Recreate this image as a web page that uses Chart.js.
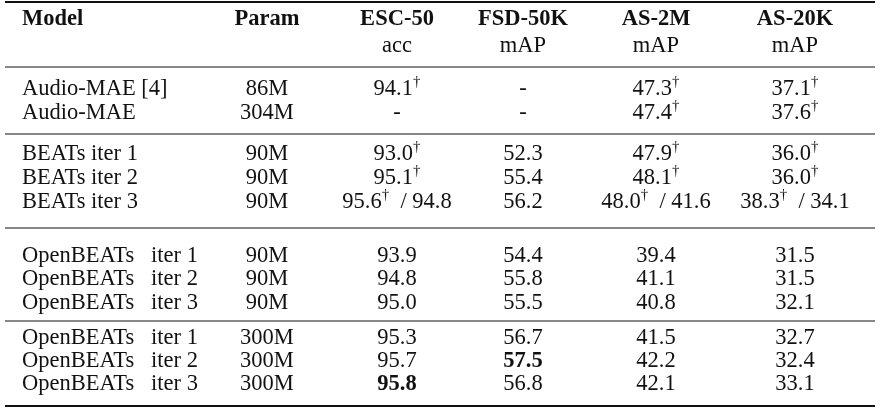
<!DOCTYPE html>
<html>
<head>
<meta charset="utf-8">
<script src="https://cdn.jsdelivr.net/npm/chart.js@4"></script>
<style>
  html, body { margin: 0; padding: 0; background: #fff; }
  #wrap { width: 881px; height: 412px; }
</style>
</head>
<body>
<div id="wrap"><canvas id="tbl"></canvas></div>
<script>
// table content
const headers = ["Model", "Param", "ESC-50", "FSD-50K", "AS-2M", "AS-20K"];
const subHeaders = ["", "", "acc", "mAP", "mAP", "mAP"];
const models = [
    "Audio-MAE [4]", "Audio-MAE",
    "BEATs iter 1", "BEATs iter 2", "BEATs iter 3",
    "OpenBEATs   iter 1", "OpenBEATs   iter 2", "OpenBEATs   iter 3",
    "OpenBEATs   iter 1", "OpenBEATs   iter 2", "OpenBEATs   iter 3",
];
const params = ["86M", "304M", "90M", "90M", "90M", "90M", "90M", "90M", "300M", "300M", "300M"];
const esc50 = ["94.1†", "-", "93.0†", "95.1†", "95.6†  / 94.8", "93.9", "94.8", "95.0", "95.3", "95.7", "**95.8"];
const fsd50k = ["-", "-", "52.3", "55.4", "56.2", "54.4", "55.8", "55.5", "56.7", "**57.5", "56.8"];
const as2m = ["47.3†", "47.4†", "47.9†", "48.1†", "48.0†  / 41.6", "39.4", "41.1", "40.8", "41.5", "42.2", "42.1"];
const as20k = ["37.1†", "37.6†", "36.0†", "36.0†", "38.3†  / 34.1", "31.5", "31.5", "32.1", "32.7", "32.4", "33.1"];
const columns = [models, params, esc50, fsd50k, as2m, as20k];

// layout in pixel-like units on the chart scales
const colX = [22, 267, 397, 523, 656, 795];
const rowY = [89, 113, 154, 178, 202, 256, 279, 303, 338, 361, 384];
const rules = [[2, 2], [67, 1], [134, 1], [228, 1], [321, 1], [406, 2]];
const FONT = "'Liberation Serif', 'DejaVu Serif', serif";

function drawCell(ctx, text, x, y, align) {
    let bold = false;
    if (text.startsWith("**")) { bold = true; text = text.slice(2); }
    const main = (bold ? "bold " : "") + "22.5px " + FONT;
    const sup = "15px " + FONT;
    const parts = [];
    text.split("†").forEach((s, i, arr) => {
        if (s) parts.push([s, main, 0]);
        if (i < arr.length - 1) parts.push(["†", sup, -7]);
    });
    let total = 0;
    parts.forEach(p => { ctx.font = p[1]; total += ctx.measureText(p[0]).width; });
    let cx = align === "left" ? x : x - total / 2;
    ctx.textAlign = "left";
    ctx.textBaseline = "middle";
    parts.forEach(p => {
        ctx.font = p[1];
        ctx.fillText(p[0], cx, y + p[2]);
        cx += ctx.measureText(p[0]).width;
    });
}

const tablePlugin = {
    id: "table",
    afterDraw(chart) {
        const ctx = chart.ctx;
        const xs = chart.scales.x, ys = chart.scales.y;
        ctx.save();
        ctx.fillStyle = "#111";
        ctx.strokeStyle = "#111";
        rules.forEach(([y, w]) => {
            ctx.lineWidth = w;
            ctx.beginPath();
            ctx.moveTo(xs.getPixelForValue(5), ys.getPixelForValue(y));
            ctx.lineTo(xs.getPixelForValue(875), ys.getPixelForValue(y));
            ctx.stroke();
        });
        headers.forEach((h, c) => {
            drawCell(ctx, "**" + h, xs.getPixelForValue(colX[c]), ys.getPixelForValue(19), c === 0 ? "left" : "center");
            if (subHeaders[c]) drawCell(ctx, subHeaders[c], xs.getPixelForValue(colX[c]), ys.getPixelForValue(46), "center");
        });
        columns.forEach((col, c) => {
            col.forEach((v, r) => {
                drawCell(ctx, v, xs.getPixelForValue(colX[c]), ys.getPixelForValue(rowY[r]), c === 0 ? "left" : "center");
            });
        });
        ctx.restore();
    },
};

new Chart(document.getElementById("tbl"), {
    type: "scatter",
    data: { datasets: [{ data: [], pointRadius: 0 }] },
    options: {
        responsive: true,
        maintainAspectRatio: false,
        animation: false,
        layout: { padding: 0 },
        scales: {
            x: { type: "linear", min: 0, max: 881, display: false },
            y: { type: "linear", min: 0, max: 412, reverse: true, display: false },
        },
        plugins: { legend: { display: false }, tooltip: { enabled: false } },
    },
    plugins: [tablePlugin],
});
</script>
</body>
</html>
